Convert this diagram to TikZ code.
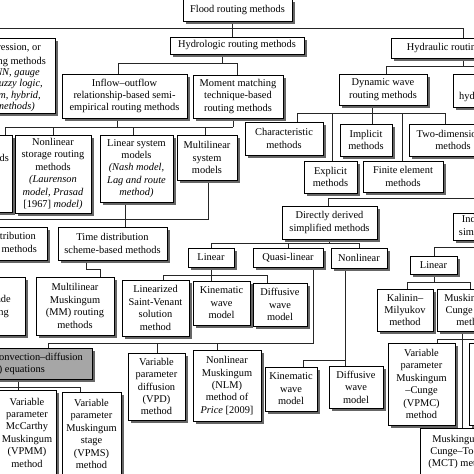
\documentclass[tikz,border=0pt]{standalone}
\usepackage{fontspec}
\setmainfont{Liberation Serif}
\usetikzlibrary{shadows}
\pgfdeclarelayer{bg}
\pgfsetlayers{bg,main}
\newcommand\bxfont{\fontsize{10.4}{12.4}\selectfont}
\tikzset{
  bx/.style={draw=black, line width=0.7pt, fill=white, inner sep=1pt, align=center, font=\bxfont,
    drop shadow={shadow xshift=2.5pt, shadow yshift=-2.5pt, fill=black!60, opacity=1}},
  graybx/.style={fill=black!35},
  frag/.style={inner sep=0pt, font=\bxfont},
  ln/.style={line width=0.8pt, draw=black!85},
}
\newcommand\mkbox[7][]{\node[bx,#1,minimum width={#5-(#3)},minimum height={#6-(#4)}] (#2) at ({(#3+#5)/2},{(#4+#6)/2}) {#7};}
\begin{document}
\begin{tikzpicture}[x=1pt,y=-1pt]
\useasboundingbox (0,0) rectangle (474,474);
\clip (0,0) rectangle (474,474);

% ---------- boxes ----------
\mkbox{flood}{183}{-1}{292}{21}{Flood routing methods}
\mkbox{hydro}{170}{37}{304}{54}{Hydrologic routing methods}
\mkbox{hydraulic}{391}{38}{535}{58}{Hydraulic routing methods}
\mkbox{regr}{-60}{38}{55}{113}{}
\mkbox{inflow}{62}{74}{187}{118}{Inflow–outflow\\relationship-based semi-\\empirical routing methods}
\mkbox{moment}{193}{75}{283}{118}{Moment matching\\technique-based\\routing methods}
\mkbox{dynamic}{339}{74}{427}{105}{Dynamic wave\\routing methods}
\mkbox{hydrtwo}{453}{74}{560}{107}{}
\mkbox{charact}{245}{122}{323}{155}{Characteristic\\methods}
\mkbox{implicit}{340}{124}{392}{156}{Implicit\\methods}
\mkbox{twodim}{409}{124}{497}{156}{Two-dimensional\\methods}
\mkbox{explicit}{304}{161}{357}{193}{Explicit\\methods}
\mkbox{finite}{363}{161}{443}{192}{Finite element\\methods}
\mkbox{lefts}{-60}{135}{12}{212}{}
\mkbox{nstor}{15}{135}{91}{213}{Nonlinear\\storage routing\\methods\\\textit{(Laurenson}\\\textit{model, Prasad}\\{[1967]} \textit{model)}}
\mkbox{linsys}{100}{135}{173}{202}{Linear system\\models\\\textit{(Nash model,}\\\textit{Lag and route}\\\textit{method)}}
\mkbox{mlsys}{177}{135}{237}{180}{Multilinear\\system\\models}
\mkbox{space}{-60}{227}{47}{260}{}
\mkbox{timed}{58}{227}{167}{260}{Time distribution\\scheme-based methods}
\mkbox{dd}{282}{206}{377}{239}{Directly derived\\simplified methods}
\mkbox{idd}{453}{213}{545}{240}{Indirectly derived\\simplified methods}
\mkbox{linone}{188}{248}{234}{267}{Linear}
\mkbox{quasi}{253}{248}{323}{267}{Quasi-linear}
\mkbox{nonlin}{331}{248}{387}{268}{Nonlinear}
\mkbox{lintwo}{410}{256}{457}{274}{Linear}
\mkbox{lcasc}{-60}{277}{25}{335}{}
\mkbox{mm}{36}{277}{114}{335}{Multilinear\\Muskingum\\(MM) routing\\methods}
\mkbox{lsv}{122}{280}{189}{336}{Linearized\\Saint-Venant\\solution\\method}
\mkbox{kinone}{193}{281}{250}{325}{Kinematic\\wave\\model}
\mkbox{diffone}{253}{283}{307}{326}{Diffusive\\wave\\model}
\mkbox{kal}{377}{289}{433}{331}{Kalinin–\\Milyukov\\method}
\mkbox{mc}{437}{289}{507}{331}{Muskingum–\\Cunge (MC)\\method}
\mkbox{kintwo}{265}{367}{317}{411}{Kinematic\\wave\\model}
\mkbox{difftwo}{329}{366}{383}{408}{Diffusive\\wave\\model}
\mkbox[graybx]{gray}{-60}{348}{92}{379}{}
\mkbox{vpmm}{-2}{390}{56}{475}{Variable\\parameter\\McCarthy\\Muskingum\\(VPMM)\\method}
\mkbox{vpms}{62}{392}{121}{476}{Variable\\parameter\\Muskingum\\stage\\(VPMS)\\method}
\mkbox{vpd}{128}{353}{185}{420}{Variable\\parameter\\diffusion\\(VPD)\\method}
\mkbox{nlm}{193}{350}{261}{421}{Nonlinear\\Muskingum\\(NLM)\\method of\\\textit{Price} [2009]}
\mkbox{vpmc}{388}{343}{455}{425}{Variable\\parameter\\Muskingum\\–Cunge\\(VPMC)\\method}
\mkbox{rbox}{469}{343}{540}{425}{}
\mkbox{mct}{420}{428}{500}{476}{Muskingum–\\Cunge–Todini\\(MCT) method}

% ---------- text of boxes cut by the left/right edge ----------
\node[frag,anchor=base east] (r1) at (41,50.4) {Regression, or};
\node[frag,anchor=base east] (r2) at (46,64.4) {routing methods};
\node[frag,anchor=base east] (r3) at (40,75.4) {\textit{(ANN, gauge}};
\node[frag,anchor=base east] (r4) at (43,86.4) {\textit{fuzzy logic,}};
\node[frag,anchor=base east] (r5) at (41,98.4) {\textit{gram, hybrid,}};
\node[frag,anchor=base east] (r6) at (35,109.4) {\textit{er methods)}};
\node[frag,anchor=base east] (s1) at (9,161.4) {methods};
\node[frag,anchor=base east] (sp1) at (36,239.4) {Space distribution};
\node[frag,anchor=base east] (sp2) at (37,252.4) {scheme-based methods};
\node[frag,anchor=base east] (c1) at (11,302.4) {Cascade};
\node[frag,anchor=base east] (c2) at (9,315.4) {routing};
\node[frag,anchor=base east] (g1) at (83,360.4) {convection–diffusion};
\node[frag,anchor=base east] (g2) at (45,372.4) {) equations};
\node[frag,anchor=base west] (h1) at (459,99.4) {hydraulic};

% ---------- connectors ----------
\begin{pgfonlayer}{bg}
\fill[white] (0,0) rectangle (474,474);
\draw[ln] (flood.south -| 232,0) -- (hydro.north -| 232,0);
\draw[ln] (0,28) -| (hydraulic.north -| 463,0);
\draw[ln] (hydro.south -| 222,0) -- (222,63);
\draw[ln] (inflow.north -| 118,0) |- (237,63) -- (moment.north -| 237,0);
\draw[ln] (inflow.south -| 117,0) -- (117,127);
\draw[ln] (moment.south -| 233,0) -- (233,127);
\draw[ln] (lefts.north -| 5,0) |- (233,127);
\draw[ln] (53,127) -- (nstor.north -| 53,0);
\draw[ln] (133,127) -- (linsys.north -| 133,0);
\draw[ln] (205,127) -- (mlsys.north -| 205,0);
\draw[ln] (mlsys.south -| 208,0) |- (0,219);
\draw[ln] (linsys.south -| 125,0) -- (timed.north -| 125,0);
\draw[ln] (timed.south -| 86,0) |- (100,269) -- (mm.north -| 100,0);
\draw[ln] (hydraulic.south -| 463,0) -- (463,66);
\draw[ln] (dynamic.north -| 386,0) |- (474,66);
\draw[ln] (dynamic.south -| 372,0) -- (implicit.north -| 372,0);
\draw[ln] (charact.north -| 297,0) |- (445,113) -- (twodim.north -| 445,0);
\draw[ln] (332,113) -- (explicit.north -| 332,0);
\draw[ln] (402,113) -- (finite.north -| 402,0);
\draw[ln] (dd.north -| 328,0) |- (474,198);
\draw[ln] (dd.south -| 329,0) -- (329,243);
\draw[ln] (linone.north -| 211,0) |- (359,243) -- (nonlin.north -| 359,0);
\draw[ln] (288,243) -- (quasi.north -| 288,0);
\draw[ln] (linone.south -| 211,0) -- (kinone.north -| 211,0);
\draw[ln] (lsv.north -| 163,0) |- (267,275) -- (diffone.north -| 267,0);
\draw[ln] (quasi.south -| 313,0) |- (48,343) -- (gray.north -| 48,0);
\draw[ln] (157,343) -- (vpd.north -| 157,0);
\draw[ln] (217,343) -- (nlm.north -| 217,0);
\draw[ln] (gray.south -| 18,0) -- (vpmm.north -| 18,0);
\draw[ln] (0,387) -| (vpms.north -| 80,0);
\draw[ln] (nonlin.south -| 345,0) -- (difftwo.north -| 345,0);
\draw[ln] (345,360) -| (kintwo.north -| 303,0);
\draw[ln] (474,247) -| (lintwo.north -| 434,0);
\draw[ln] (lintwo.south -| 434,0) -- (434,282);
\draw[ln] (kal.north -| 407,0) |- (470,282) -- (mc.north -| 470,0);
\draw[ln] (mc.south -| 462,0) -- (mct.north -| 462,0);
\draw[ln] (vpmc.north -| 437,0) |- (474,339);
\end{pgfonlayer}
\end{tikzpicture}
\end{document}
